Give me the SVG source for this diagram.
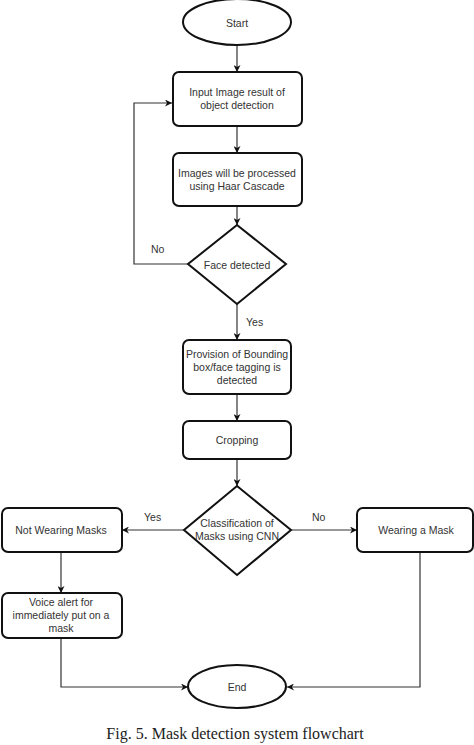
<svg xmlns="http://www.w3.org/2000/svg" width="474" height="745" viewBox="0 0 474 745">
<defs>
<marker id="ah" viewBox="0 0 10 10" refX="10" refY="5" markerWidth="7" markerHeight="7" markerUnits="userSpaceOnUse" orient="auto">
<path d="M0,0 L10,5 L0,10 L3,5 Z" fill="#111"/>
</marker>
<style>
.n{fill:#fff;stroke:#111;stroke-width:2}
.t{font-family:"Liberation Sans",Arial,sans-serif;font-size:10.5px;fill:#333;text-anchor:middle}
.c{fill:none;stroke:#333;stroke-width:1.2;marker-end:url(#ah)}
.l{font-family:"Liberation Sans",Arial,sans-serif;font-size:10.5px;fill:#333}
.cap{font-family:"Liberation Serif","Times New Roman",serif;font-size:16px;fill:#222;text-anchor:middle}
</style>
</defs>
<rect width="474" height="745" fill="#fff"/>
<g id="connectors">
<path class="c" d="M237,45 V72"/>
<path class="c" d="M237,126 V153"/>
<path class="c" d="M237,206 V225"/>
<path class="c" d="M188,264 H134 V103 H172"/>
<path class="c" d="M237,304 V340"/>
<path class="c" d="M237,394 V421"/>
<path class="c" d="M237,459 V486"/>
<path class="c" d="M184,530 H122"/>
<path class="c" d="M291,530 H357"/>
<path class="c" d="M61,552 V593"/>
<path class="c" d="M61,638 V687 H188"/>
<path class="c" d="M420,552 V687 H287"/>
<text class="l" x="151" y="253">No</text>
<text class="l" x="246" y="326">Yes</text>
<text class="l" x="144" y="521">Yes</text>
<text class="l" x="312" y="521">No</text>
</g>
<g id="start">
<ellipse class="n" cx="237" cy="22" rx="54" ry="23"/>
<text class="t" x="237" y="27">Start</text>
</g>
<g id="input">
<rect class="n" x="173" y="72" width="129" height="54" rx="6"/>
<text class="t" x="237" y="96">Input Image result of</text>
<text class="t" x="237" y="109">object detection</text>
</g>
<g id="haar">
<rect class="n" x="173" y="153" width="129" height="53" rx="6"/>
<text class="t" x="237" y="177">Images will be processed</text>
<text class="t" x="237" y="190">using Haar Cascade</text>
</g>
<g id="face">
<polygon class="n" points="237,225 286,264 237,304 188,264"/>
<text class="t" x="237" y="269">Face detected</text>
</g>
<g id="bbox">
<rect class="n" x="183" y="340" width="108" height="54" rx="6"/>
<text class="t" x="237" y="358">Provision of Bounding</text>
<text class="t" x="237" y="371">box/face tagging is</text>
<text class="t" x="237" y="384">detected</text>
</g>
<g id="crop">
<rect class="n" x="183" y="421" width="108" height="38" rx="6"/>
<text class="t" x="237" y="444">Cropping</text>
</g>
<g id="classify">
<polygon class="n" points="237,486 291,530 237,575 184,530"/>
<text class="t" x="237" y="527">Classification of</text>
<text class="t" x="237" y="540">Masks using CNN</text>
</g>
<g id="notwearing">
<rect class="n" x="2" y="508" width="120" height="44" rx="6"/>
<text class="t" x="61" y="534">Not Wearing Masks</text>
</g>
<g id="wearing">
<rect class="n" x="357" y="508" width="116" height="44" rx="6"/>
<text class="t" x="416" y="534">Wearing a Mask</text>
</g>
<g id="voice">
<rect class="n" x="2" y="593" width="120" height="45" rx="6"/>
<text class="t" x="61" y="606">Voice alert for</text>
<text class="t" x="61" y="619">immediately put on a</text>
<text class="t" x="61" y="632">mask</text>
</g>
<g id="end">
<ellipse class="n" cx="237" cy="686.5" rx="49" ry="21.5"/>
<text class="t" x="237" y="691">End</text>
</g>
<text class="cap" x="235" y="739">Fig. 5. Mask detection system flowchart</text>
</svg>
